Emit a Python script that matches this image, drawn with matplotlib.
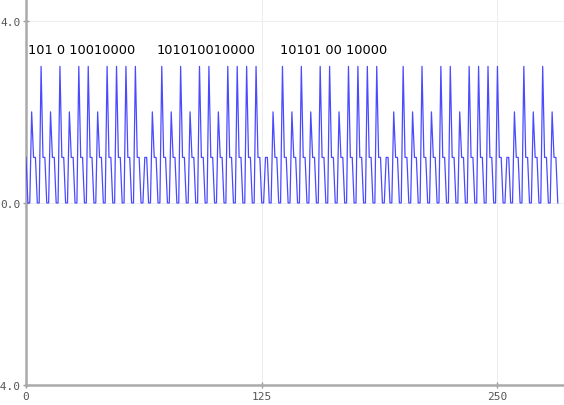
import matplotlib
matplotlib.use("Agg")
import matplotlib.pyplot as plt

# bits of one frame, as written above the trace
frame_bits = [1, 0, 1, 0, 1, 0, 0, 1, 0, 0, 0, 0]
peak_for_bit = {1: 2, 0: 3}   # bit 1 -> short spike, bit 0 -> tall spike
pulse_tail = [1, 1, 0, 0]     # after each spike
idle = [1, 1, 0, 0]           # gap between frames
lead_in = [1, 0, 0]
n_frames = 4
n_samples = 283

labels = ["101 0 10010000", "101010010000", "10101 00 10000"]
label_x = [1.0, 69.5, 134.5]
label_y = 3.38

xticks = [0, 125, 250]
yticks = [-4.0, 0.0, 4.0]

# assemble the trace
signal = list(lead_in)
for f in range(n_frames + 1):
    for b in frame_bits:
        signal += [peak_for_bit[b]] + pulse_tail
    signal += idle
signal = signal[:n_samples]
xs = list(range(len(signal)))

fig = plt.figure(figsize=(5.64, 4.06), dpi=100)
ax = fig.add_axes([26 / 564, 20 / 406, 538 / 564, 386 / 406])

ax.plot(xs, signal, color="#4a4aff", lw=0.9, zorder=3)

for s, x in zip(labels, label_x):
    ax.text(x, label_y, s, fontsize=9.3, color="black", va="center", ha="left",
            family="DejaVu Sans")

ax.set_xlim(0, 285.3)
ax.set_ylim(-4, 4.48)
ax.set_xticks(xticks)
ax.set_xticklabels([str(t) for t in xticks])
ax.set_yticks(yticks)
ax.set_yticklabels(["%.1f" % t for t in yticks])

ax.grid(True, color="#eeeeee", lw=0.8, zorder=0)
for side in ["top", "right"]:
    ax.spines[side].set_visible(False)
for side in ["left", "bottom"]:
    ax.spines[side].set_color("#aaaaaa")
    ax.spines[side].set_linewidth(1.8)

ax.tick_params(axis="both", colors="#999999", labelcolor="#555555",
               labelsize=8, length=4, width=1, direction="inout", pad=2)
for lab in ax.get_xticklabels() + ax.get_yticklabels():
    lab.set_family("DejaVu Sans Mono")

fig.savefig("out.png", dpi=100)
